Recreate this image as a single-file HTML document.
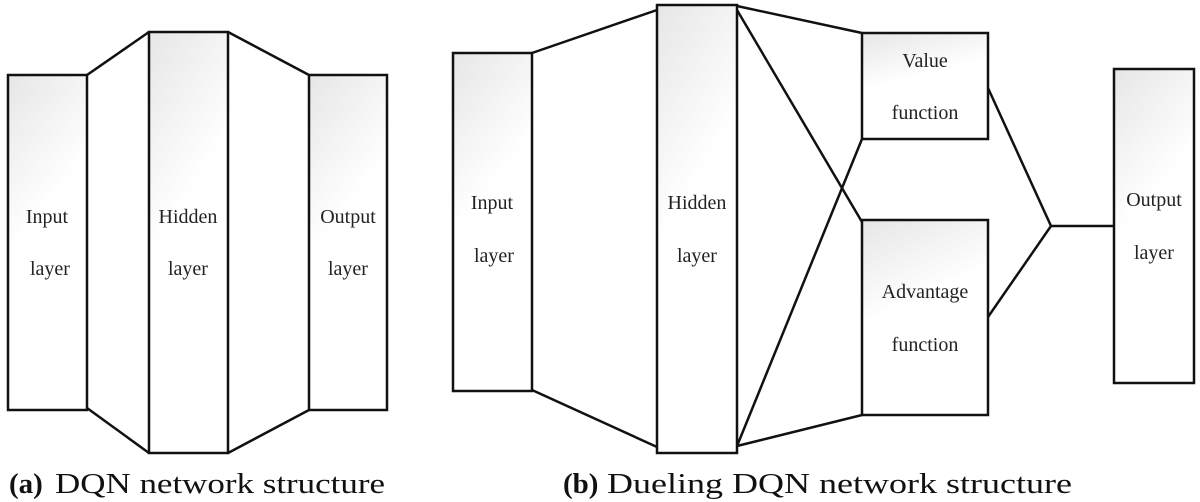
<!DOCTYPE html>
<html><head><style>body{margin:0;background:#fff}svg{display:block}</style></head><body>
<svg width="1200" height="502" viewBox="0 0 1200 502" xmlns="http://www.w3.org/2000/svg">
<defs><linearGradient id="g" x1="0" y1="0" x2="0.3" y2="1"><stop offset="0" stop-color="#e6e6e6"/><stop offset="0.5" stop-color="#fff"/></linearGradient></defs>
<g stroke="#111" stroke-width="2.5" fill="url(#g)">
<rect x="8" y="75" width="79" height="335"/>
<rect x="149" y="32" width="79" height="421"/>
<rect x="309" y="75" width="78" height="335"/>
<rect x="453" y="53" width="79" height="338"/>
<rect x="657" y="5" width="80" height="448"/>
<rect x="862" y="33" width="126" height="106"/>
<rect x="862" y="220" width="126" height="195"/>
<rect x="1114" y="69" width="80" height="314"/>
</g>
<g stroke="#111" stroke-width="2.5" fill="none">
<line x1="87" y1="75" x2="149" y2="32"/><line x1="87" y1="408" x2="149" y2="453"/>
<line x1="228" y1="32" x2="309" y2="75"/><line x1="228" y1="453" x2="309" y2="410"/>
<line x1="532" y1="53" x2="657" y2="10"/><line x1="532" y1="390" x2="657" y2="447"/>
<line x1="737" y1="6" x2="862" y2="33"/><line x1="737" y1="10" x2="862" y2="222"/>
<line x1="737" y1="446" x2="862" y2="139"/><line x1="737" y1="446" x2="862" y2="415"/>
<polyline points="988,88 1051,226 988,317"/><line x1="1051" y1="226" x2="1114" y2="226"/>
</g>
<g font-family="Liberation Serif, serif" font-size="20" fill="#222" text-anchor="middle">
<text x="47" y="223">Input</text><text x="50" y="275">layer</text>
<text x="188" y="223">Hidden</text><text x="188" y="275">layer</text>
<text x="348" y="223">Output</text><text x="348" y="275">layer</text>
<text x="492" y="209">Input</text><text x="494" y="262">layer</text>
<text x="697" y="209">Hidden</text><text x="697" y="262">layer</text>
<text x="925" y="67">Value</text><text x="925" y="119">function</text>
<text x="925" y="298">Advantage</text><text x="925" y="351">function</text>
<text x="1154" y="206">Output</text><text x="1154" y="259">layer</text>
</g>
<g font-family="Liberation Serif, serif" font-size="29" fill="#111">
<text x="9" y="493" font-weight="bold">(a)</text>
<text x="55" y="493" textLength="330" lengthAdjust="spacingAndGlyphs">DQN network structure</text>
<text x="563" y="493" font-weight="bold">(b)</text>
<text x="607" y="493" textLength="465" lengthAdjust="spacingAndGlyphs">Dueling DQN network structure</text>
</g>
</svg>
</body></html>
